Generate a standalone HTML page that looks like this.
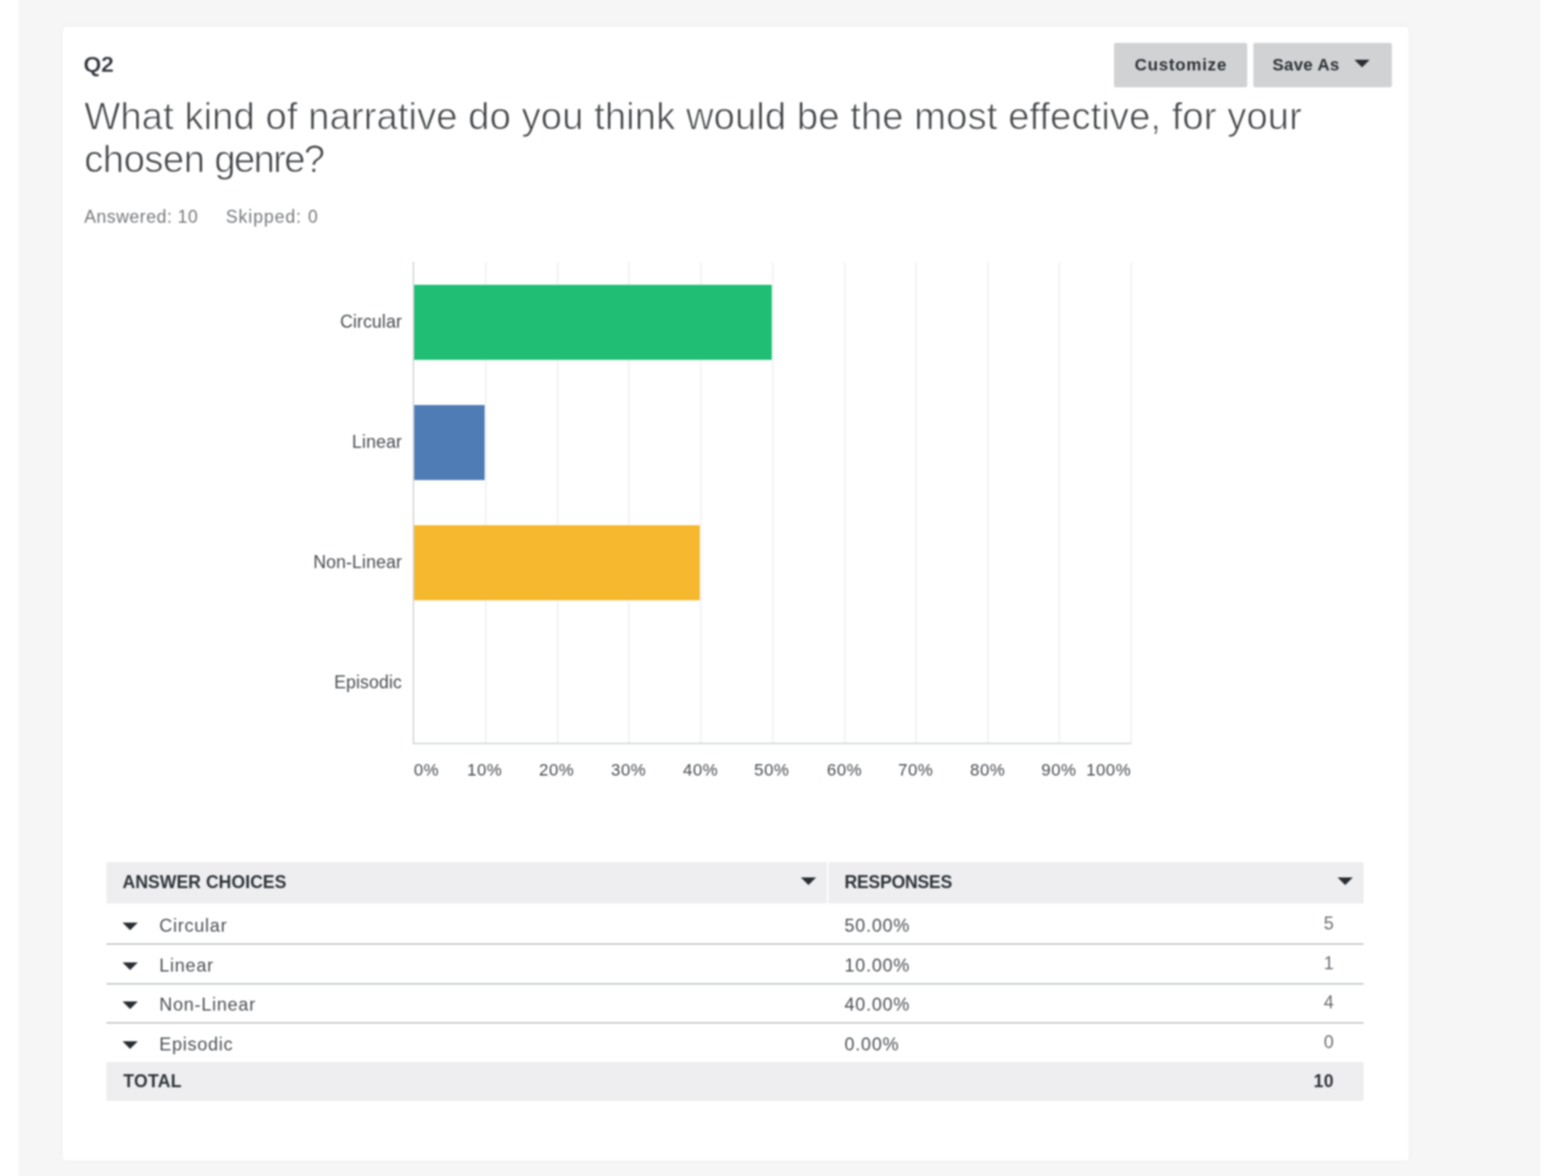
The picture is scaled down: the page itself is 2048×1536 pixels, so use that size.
<!DOCTYPE html>
<html lang="en">
<head>
<meta charset="utf-8">
<title>Q2 - Survey Results</title>
<style>
*{box-sizing:border-box;margin:0;padding:0}
html,body{width:2048px;height:1536px;overflow:hidden;background:#fff}
body{font-family:"Liberation Sans",sans-serif;color:#333e48;position:relative}
.wrap{position:absolute;left:-40px;top:-40px;width:2128px;height:1616px;background:#fff;filter:blur(0.9px)}
.page{position:absolute;left:40px;top:40px;width:2048px;height:1536px}
.bg{position:absolute;left:24px;top:-40px;width:1988px;height:1616px;background:#f6f6f7}
.card{position:absolute;left:82px;top:35px;width:1758px;height:1481px;background:#fff;border-radius:5px;box-shadow:0 0 8px rgba(0,0,0,.035)}
.abs{position:absolute;white-space:nowrap}
.qn{left:109px;top:66px;font-size:30px;font-weight:700;line-height:36px;color:#2f3439;-webkit-text-stroke:.3px #fff;letter-spacing:-.3px}
.title{left:110px;top:124px;font-size:50px;line-height:56px;color:#424548;font-weight:400;-webkit-text-stroke:1px #fff;letter-spacing:.06px}
.meta{top:268px;font-size:23px;line-height:30px;color:#74787c}
.btn{top:56px;height:58px;background:#d1d2d3;border-radius:3px;font-size:22px;font-weight:700;line-height:57px;color:#2d3136}
.tri{position:absolute;width:0;height:0;border-left:10px solid transparent;border-right:10px solid transparent;border-top:10px solid #2a2e33}
.grid{position:absolute;top:342px;width:3px;height:628px;background:#f5f5f8}
.axisy{position:absolute;left:539px;top:342px;width:2px;height:630px;background:#d6d7d9}
.axisx{position:absolute;left:539px;top:970px;width:939px;height:2px;background:#d6d7d9}
.bar{position:absolute;left:541px;height:98px}
.cat{right:1523px;font-size:23px;line-height:30px;color:#484c51;text-align:right;letter-spacing:.2px}
.tick{top:991px;font-size:22px;line-height:30px;color:#484c51;transform:translateX(-50%);letter-spacing:.6px}
.th{position:absolute;top:1126px;height:54px;background:#eeeef0;font-size:23px;font-weight:700;line-height:53px;color:#2f3439}
.th span{position:absolute;top:0}
.row{position:absolute;left:139px;width:1642px;height:52px;border-bottom:2px solid #c4c5c7;font-size:23.5px;line-height:54px;color:#4c5055;letter-spacing:1px}
.row span.n{top:-3px;right:39px;letter-spacing:0;color:#6a6e73}
.row span{position:absolute;top:0}
.total{position:absolute;left:139px;top:1387px;width:1642px;height:51px;background:#eeeef0;font-size:23px;font-weight:700;line-height:51px;color:#2f3439}
.total span{position:absolute;top:0}
</style>
</head>
<body>
<div class="wrap"><div class="page">
<div class="bg"></div>
<div class="card"></div>

<div class="abs qn">Q2</div>
<div class="abs title">What kind of narrative do you think would be the most effective, for your<br><span style="letter-spacing:-.7px">chosen</span><span style="letter-spacing:-1px"> </span><span style="letter-spacing:-2.2px">genre?</span></div>
<div class="abs meta" style="left:110px;letter-spacing:.7px">Answered: 10</div>
<div class="abs meta" style="left:295px;letter-spacing:1.25px">Skipped: 0</div>

<div class="abs btn" style="left:1455px;width:174px;padding-left:27px;letter-spacing:1.05px">Customize</div>
<div class="abs btn" style="left:1637px;width:181px;padding-left:25px;letter-spacing:.4px">Save As<div class="tri" style="left:132px;top:22px"></div></div>

<!-- chart -->
<div class="grid" style="left:633px"></div>
<div class="grid" style="left:727px"></div>
<div class="grid" style="left:820px"></div>
<div class="grid" style="left:914px"></div>
<div class="grid" style="left:1008px"></div>
<div class="grid" style="left:1102px"></div>
<div class="grid" style="left:1195px"></div>
<div class="grid" style="left:1289px"></div>
<div class="grid" style="left:1382px"></div>
<div class="grid" style="left:1476px"></div>
<div class="axisy"></div>
<div class="axisx"></div>
<div class="bar" style="top:372px;width:467px;background:#1fbe74"></div>
<div class="bar" style="top:529px;width:92px;background:#507cb6"></div>
<div class="bar" style="top:686px;width:373px;background:#f5b82e"></div>

<div class="abs cat" style="top:405px">Circular</div>
<div class="abs cat" style="top:562px">Linear</div>
<div class="abs cat" style="top:719px">Non-Linear</div>
<div class="abs cat" style="top:876px">Episodic</div>

<div class="abs tick" style="left:557px">0%</div>
<div class="abs tick" style="left:633px">10%</div>
<div class="abs tick" style="left:727px">20%</div>
<div class="abs tick" style="left:821px">30%</div>
<div class="abs tick" style="left:915px">40%</div>
<div class="abs tick" style="left:1008px">50%</div>
<div class="abs tick" style="left:1103px">60%</div>
<div class="abs tick" style="left:1196px">70%</div>
<div class="abs tick" style="left:1290px">80%</div>
<div class="abs tick" style="left:1383px">90%</div>
<div class="abs tick" style="left:1448px">100%</div>

<!-- table -->
<div class="th" style="left:139px;width:941px"><span style="left:21px;letter-spacing:.05px">ANSWER CHOICES</span><div class="tri" style="left:907px;top:20px"></div></div>
<div class="th" style="left:1082px;width:699px"><span style="left:21px;letter-spacing:-.3px">RESPONSES</span><div class="tri" style="left:665px;top:20px"></div></div>

<div class="row" style="top:1182px"><div class="tri" style="left:21px;top:23px"></div><span style="left:69px">Circular</span><span style="left:964px">50.00%</span><span class="n">5</span></div>
<div class="row" style="top:1234px"><div class="tri" style="left:21px;top:23px"></div><span style="left:69px">Linear</span><span style="left:964px">10.00%</span><span class="n">1</span></div>
<div class="row" style="top:1285px"><div class="tri" style="left:21px;top:23px"></div><span style="left:69px">Non-Linear</span><span style="left:964px">40.00%</span><span class="n">4</span></div>
<div class="row" style="top:1337px;border-bottom:0"><div class="tri" style="left:21px;top:23px"></div><span style="left:69px">Episodic</span><span style="left:964px">0.00%</span><span class="n">0</span></div>
<div class="total"><span style="left:22px;letter-spacing:.4px">TOTAL</span><span style="right:39px;letter-spacing:.3px">10</span></div>
</div></div>
</body>
</html>
